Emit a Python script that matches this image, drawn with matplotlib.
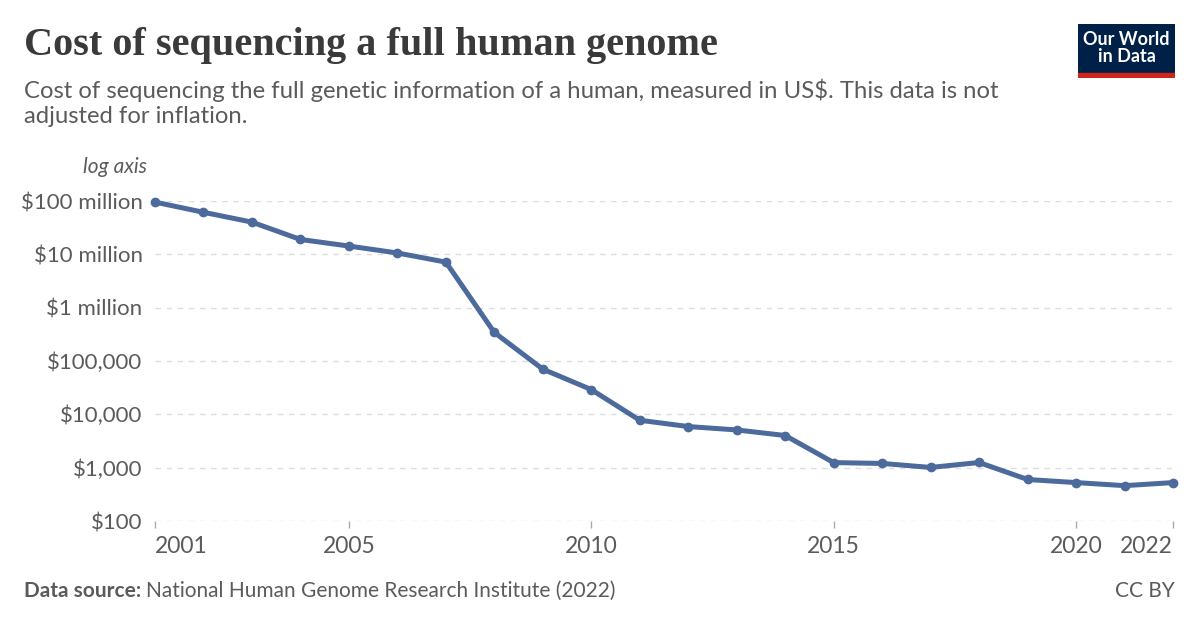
import matplotlib
matplotlib.use("Agg")
import matplotlib.pyplot as plt
from matplotlib.patches import Rectangle
from matplotlib.ticker import FixedLocator, FixedFormatter

years = [2001, 2002, 2003, 2004, 2005, 2006, 2007, 2008, 2009, 2010, 2011,
         2012, 2013, 2014, 2015, 2016, 2017, 2018, 2019, 2020, 2021, 2022]
cost = [95263072, 61448422, 40157554, 19000000, 14300000, 10600000, 7147571,
        342502, 70333, 29092, 7743, 5901, 5096, 4008, 1245, 1200, 1010,
        1250, 600, 525, 460, 525]

ytick_vals = [100, 1e3, 1e4, 1e5, 1e6, 1e7, 1e8]
ytick_labels = ["$100", "$1,000", "$10,000", "$100,000", "$1 million",
                "$10 million", "$100 million"]
xtick_vals = [2001, 2005, 2010, 2015, 2020, 2022]
xtick_labels = ["2001", "2005", "2010", "2015", "2020", "2022"]

W, H = 1200, 627
fig = plt.figure(figsize=(W / 100, H / 100), dpi=100)
plt.rcParams['font.family'] = ['Lato', 'DejaVu Sans']

ax = fig.add_axes([155 / W, (H - 521) / H, (1173 - 155) / W, (521 - 201) / H])
ax.set_yscale('log')
ax.set_ylim(100, 1e8)
ax.set_xlim(2001, 2022)
ax.plot(years, cost, color='#4c6a9c', lw=3.6, marker='o', ms=6,
        solid_joinstyle='round', clip_on=False, zorder=3)

ax.yaxis.set_major_locator(FixedLocator(ytick_vals))
ax.yaxis.set_major_formatter(FixedFormatter(ytick_labels))
ax.yaxis.set_minor_locator(FixedLocator([]))
ax.xaxis.set_major_locator(FixedLocator(xtick_vals))
ax.xaxis.set_major_formatter(FixedFormatter(xtick_labels))

for v in ytick_vals:
    ax.axhline(v, color='#dddddd', lw=1, ls=(0, (4, 4)), zorder=1)

for s in ax.spines.values():
    s.set_visible(False)
ax.tick_params(axis='y', length=0, pad=9, labelsize=16, labelcolor='#5b5b5b')
ax.tick_params(axis='x', length=5, width=1, color='#aaaaaa', pad=6,
               labelsize=16.5, labelcolor='#5b5b5b', direction='out')
ax.patch.set_visible(False)
xl = ax.get_xticklabels()
xl[0].set_ha('left')
xl[-1].set_ha('right')

# Title and subtitle
fig.text(24 / W, 1 - 45 / H, "Cost of sequencing a full human genome",
         family=['Liberation Serif', 'DejaVu Serif'], weight='bold',
         fontsize=29, color='#3a3a3a', va='center')
fig.text(24 / W, 1 - 103 / H,
         "Cost of sequencing the full genetic information of a human, measured in US$. This data is not\nadjusted for inflation.",
         fontsize=17.2, color='#5b5b5b', va='center', linespacing=1.25)
fig.text(147 / W, 1 - 167 / H, "log axis", fontsize=15, style='italic',
         color='#5b5b5b', ha='right', va='center')

# Logo
logo = fig.add_axes([1078 / W, 1 - 78 / H, (1175 - 1078) / W, (78 - 24) / H])
logo.set_xlim(0, 1)
logo.set_ylim(0, 1)
logo.axis('off')
logo.add_patch(Rectangle((0, 0.1), 1, 0.9, color='#002147'))
logo.add_patch(Rectangle((0, 0), 1, 0.1, color='#ce261e'))
logo.text(0.5, 0.56, "Our World\nin Data", color='white', ha='center',
          va='center', fontsize=13, weight='bold', linespacing=1.0)

# Footer
t1 = fig.text(24 / W, 1 - 591 / H, "Data source:", fontsize=15,
              color='#5b5b5b', va='center', weight='bold')
fig.canvas.draw()
bb = t1.get_window_extent()
fig.text((bb.x1 + 5) / W, 1 - 591 / H,
         "National Human Genome Research Institute (2022)", fontsize=15,
         color='#5b5b5b', va='center')
fig.text(1175 / W, 1 - 591 / H, "CC BY", fontsize=15, color='#5b5b5b',
         va='center', ha='right')

fig.savefig("out.png", dpi=100)
